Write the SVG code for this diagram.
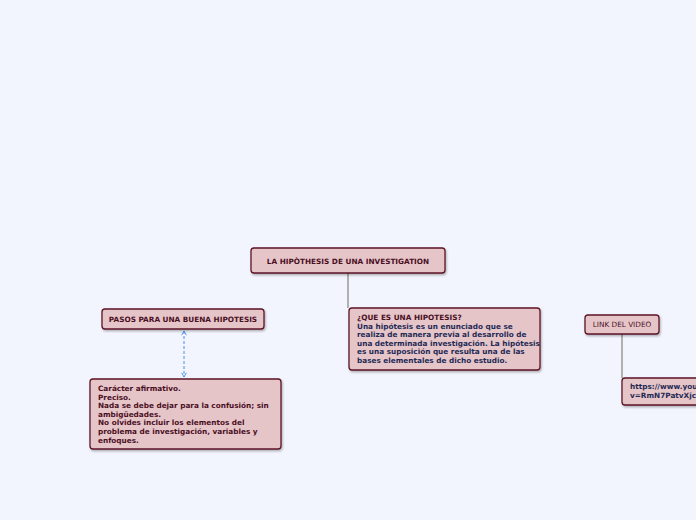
<svg xmlns="http://www.w3.org/2000/svg" width="696" height="520" viewBox="0 0 696 520">
<style>
.n{fill:#e6c5c9;stroke:#5e1426;stroke-width:1.3}
.t{font-family:"DejaVu Sans",Verdana,sans-serif;font-size:7.3px;font-weight:bold;fill:#4a0f1f}
.b{font-family:"DejaVu Sans",Verdana,sans-serif;font-size:7.3px;font-weight:bold;fill:#1f2a55}
.l{font-family:"DejaVu Sans",Verdana,sans-serif;font-size:7.3px;fill:#4a0f1f}
</style>
<defs>
<filter id="s" x="-10%" y="-10%" width="120%" height="130%"><feDropShadow dx="1" dy="1.5" stdDeviation="1" flood-color="#000" flood-opacity="0.3"/></filter>
<marker id="a" viewBox="0 0 10 10" refX="8" refY="5" markerWidth="6" markerHeight="6" orient="auto-start-reverse"><path d="M1 1L8 5L1 9" fill="none" stroke="#4a90e2" stroke-width="1.5"/></marker>
</defs>
<rect width="696" height="520" fill="#f3f5fe"/>
<g id="connectors">
<path d="M348 273V308" stroke="#b0b0b0" stroke-width="2" fill="none"/>
<path d="M622 334V378" stroke="#b0b0b0" stroke-width="2" fill="none"/>
<path d="M184 331V377" stroke="#4a90e2" stroke-width="1" stroke-dasharray="3,2" fill="none" marker-start="url(#a)" marker-end="url(#a)"/>
</g>
<g id="main"><rect class="n" filter="url(#s)" x="251" y="248" width="194" height="25" rx="3"/><text class="t" x="348" y="264" text-anchor="middle">LA HIPÒTHESIS DE UNA INVESTIGATION</text></g>
<g id="pasos"><rect class="n" filter="url(#s)" x="102" y="309" width="162" height="20" rx="3"/><text class="t" x="183" y="322" text-anchor="middle">PASOS PARA UNA BUENA HIPOTESIS</text></g>
<g id="que"><rect class="n" filter="url(#s)" x="349" y="308" width="191" height="62" rx="3"/>
<text class="t" x="357" y="320">¿QUE ES UNA HIPOTESIS?</text>
<text class="b" x="357" y="328.6">Una hipótesis es un enunciado que se</text>
<text class="b" x="357" y="337.2">realiza de manera previa al desarrollo de</text>
<text class="b" x="357" y="345.8">una determinada investigación. La hipótesis</text>
<text class="b" x="357" y="354.4">es una suposición que resulta una de las</text>
<text class="b" x="357" y="363">bases elementales de dicho estudio.</text></g>
<g id="pasoslist"><rect class="n" filter="url(#s)" x="90" y="379" width="191" height="70" rx="3"/>
<text class="t" x="98" y="391">Carácter afirmativo.</text>
<text class="t" x="98" y="399.6">Preciso.</text>
<text class="t" x="98" y="408.2">Nada se debe dejar para la confusión; sin</text>
<text class="t" x="98" y="416.8">ambigüedades.</text>
<text class="t" x="98" y="425.4">No olvides incluir los elementos del</text>
<text class="t" x="98" y="434">problema de investigación, variables y</text>
<text class="t" x="98" y="442.6">enfoques.</text></g>
<g id="link"><rect class="n" filter="url(#s)" x="585" y="315" width="74" height="19" rx="3"/><text class="l" x="622" y="327" text-anchor="middle">LINK DEL VIDEO</text></g>
<g id="url"><rect class="n" filter="url(#s)" x="622" y="378" width="82" height="27" rx="3"/>
<text class="b" x="630" y="389">https://www.youtube.com/watch?</text>
<text class="b" x="630" y="398">v=RmN7PatvXjc</text></g>
</svg>
